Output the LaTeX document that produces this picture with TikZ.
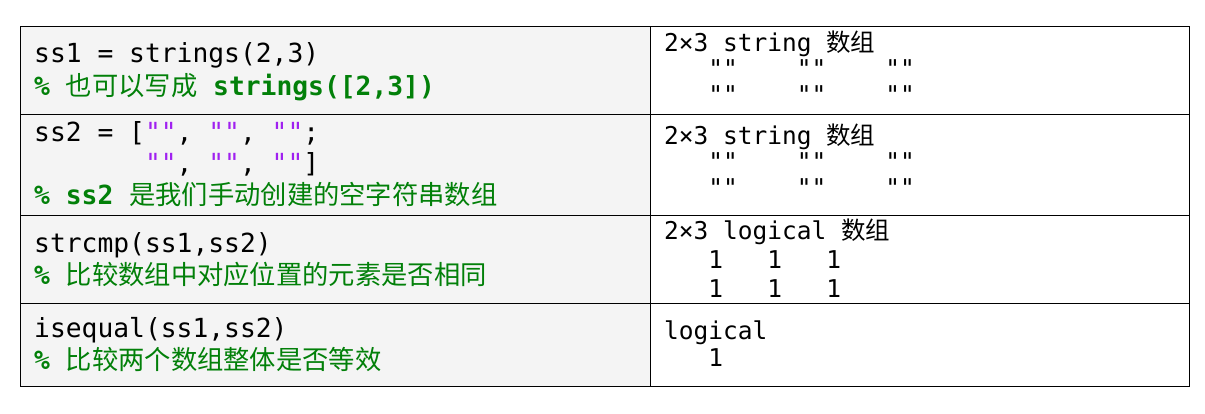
\documentclass[tikz,border=0pt]{standalone}
\usepackage{fontspec}
\setmonofont{DejaVu Sans Mono}
\newfontfamily\cjk{Noto Sans CJK SC}
\definecolor{cgreen}{RGB}{2,128,9}
\definecolor{cpurp}{RGB}{160,32,240}
\definecolor{cgray}{RGB}{244,244,244}
\begin{document}
\begin{tikzpicture}[x=1pt,y=-1pt,
  lc/.style={anchor=base west,inner sep=0pt,font=\fontsize{26.3}{30}\ttfamily},
  rc/.style={anchor=base west,inner sep=0pt,font=\fontsize{24.5}{28}\ttfamily},
  cmt/.style={lc,text=cgreen},
  gridline/.style={draw=black,line width=0.8pt}]
\useasboundingbox (0,0) rectangle (1205,413);
\fill[cgray] (20,26) rectangle (650,386);
\draw[gridline] (20,26) rectangle (1189,386);
\draw[gridline] (650,26) -- (650,386);
\foreach \y in {114,215,303} \draw[gridline] (20,\y) -- (1189,\y);
% row 1
\node[lc] (a1) at (34,62) {ss1 = strings(2,3)};
\node[cmt] (a2) at (34,95) {\textbf{\%} {\cjk 也可以写成} \textbf{strings([2,3])}};
\node[rc] (b1) at (664,51) {2×3 string {\cjk 数组}};
\node[rc] (b2) at (664,77) {~~~""~~~~""~~~~""};
\node[rc] (b3) at (664,103) {~~~""~~~~""~~~~""};
% row 2
\node[lc] (c1) at (34,141) {ss2 = [{\color{cpurp}""}, {\color{cpurp}""}, {\color{cpurp}""};};
\node[lc] (c2) at (34,172) {~~~~~~~{\color{cpurp}""}, {\color{cpurp}""}, {\color{cpurp}""}]};
\node[cmt] (c3) at (34,204) {\textbf{\% ss2} {\cjk 是我们手动创建的空字符串数组}};
\node[rc] (d1) at (664,144) {2×3 string {\cjk 数组}};
\node[rc] (d2) at (664,170) {~~~""~~~~""~~~~""};
\node[rc] (d3) at (664,196) {~~~""~~~~""~~~~""};
% row 3
\node[lc] (e1) at (34,252) {strcmp(ss1,ss2)};
\node[cmt] (e2) at (34,284) {\textbf{\%} {\cjk 比较数组中对应位置的元素是否相同}};
\node[rc] (f1) at (664,239) {2×3 logical {\cjk 数组}};
\node[rc] (f2) at (664,268) {~~~1~~~1~~~1};
\node[rc] (f3) at (664,297) {~~~1~~~1~~~1};
% row 4
\node[lc] (g1) at (34,337) {isequal(ss1,ss2)};
\node[cmt] (g2) at (34,369) {\textbf{\%} {\cjk 比较两个数组整体是否等效}};
\node[rc] (h1) at (664,339) {logical};
\node[rc] (h2) at (664,366) {~~~1};
\end{tikzpicture}
\end{document}
